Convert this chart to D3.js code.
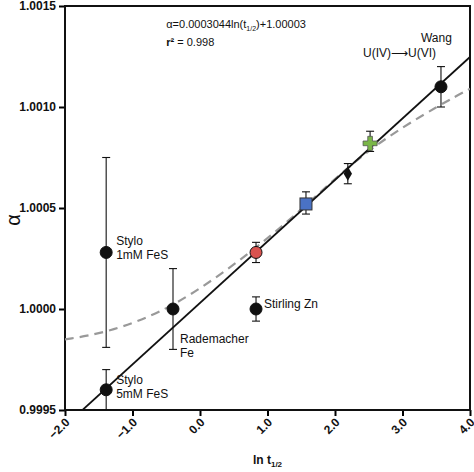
<!DOCTYPE html>
<html><head><meta charset="utf-8">
<script src="https://cdn.jsdelivr.net/npm/d3@7"></script>
<style>body{margin:0;background:#fff;font-family:"Liberation Sans",Arial,sans-serif}</style>
</head><body><div id="chart"></div>
<script>
// data points: ln t1/2, alpha, error high, error low
var names  = ["Stylo 1mM", "Rademacher", "Stylo 5mM", "red", "Stirling", "blue", "diamond", "green", "Wang"];
var xs     = [-1.39, -0.40, -1.39, 0.83, 0.83, 1.57, 2.19, 2.52, 3.57];
var ys     = [1.00028, 1.00000, 0.99960, 1.00028, 1.00000, 1.00052, 1.00067, 1.00082, 1.00110];
var errHi  = [1.00075, 1.00020, 0.99970, 1.00033, 1.00006, 1.00058, 1.00072, 1.00088, 1.00120];
var errLo  = [0.99981, 0.99980, 0.99950, 1.00023, 0.99994, 1.00047, 1.00062, 1.00078, 1.00100];
var shapes = ["circle", "circle", "circle", "circle", "circle", "square", "diamond", "cross", "circle"];
var fills  = ["#111", "#111", "#111", "#d9534f", "#111", "#4a72c4", "#111", "#7ab648", "#111"];
// dashed curve
var curveX = [-2.0, -1.4, -0.4, 0.8, 1.6, 2.5, 3.6, 4.0];
var curveY = [0.99985, 0.99988, 1.00000, 1.00029, 1.00052, 1.00080, 1.00102, 1.00109];
var xTicks = [-2, -1, 0, 1, 2, 3, 4];
var yTicks = [0.9995, 1.0000, 1.0005, 1.0010, 1.0015];
var slope = 0.0003044, intercept = 1.00003;

var W = 474, H = 472;
var margin = {top: 6, right: 4, bottom: 62, left: 65};
var width = W - margin.left - margin.right, height = H - margin.top - margin.bottom;

var svg = d3.select("#chart").append("svg").attr("width", W).attr("height", H)
  .append("g").attr("transform", "translate(" + margin.left + "," + margin.top + ")");

var x = d3.scaleLinear().domain([-2, 4]).range([0, width]);
var y = d3.scaleLinear().domain([0.9995, 1.0015]).range([height, 0]);

svg.append("defs").append("clipPath").attr("id", "clip")
  .append("rect").attr("width", width).attr("height", height);

// axes
var xa = svg.append("g").attr("transform", "translate(0," + height + ")")
  .call(d3.axisBottom(x).tickValues(xTicks).tickFormat(d3.format(".1f")).tickSize(6));
xa.selectAll("text").attr("x", 0).attr("y", 0).attr("dy", 0)
  .attr("transform", "translate(5,13)rotate(-45)").style("text-anchor", "end")
  .attr("font-size", 12).attr("font-weight", "bold").attr("fill", "#111");
var ya = svg.append("g")
  .call(d3.axisLeft(y).tickValues(yTicks).tickFormat(d3.format(".4f")).tickSize(6));
ya.selectAll("text").attr("font-size", 12).attr("font-weight", "bold").attr("fill", "#111");
svg.selectAll(".domain").remove();
svg.selectAll(".tick line").attr("stroke-width", 2);

svg.append("rect").attr("width", width).attr("height", height)
  .attr("fill", "none").attr("stroke", "#111").attr("stroke-width", 2);

var plot = svg.append("g").attr("clip-path", "url(#clip)");

// dashed curve
plot.append("path").datum(curveX.map(function(d, i){ return [d, curveY[i]]; }))
  .attr("fill", "none").attr("stroke", "#999").attr("stroke-width", 2.2).attr("stroke-dasharray", "9,6")
  .attr("d", d3.line().curve(d3.curveBasis).x(function(d){ return x(d[0]); }).y(function(d){ return y(d[1]); }));

// regression line
plot.append("line")
  .attr("x1", x(-2)).attr("y1", y(slope * -2 + intercept))
  .attr("x2", x(4)).attr("y2", y(slope * 4 + intercept))
  .attr("stroke", "#111").attr("stroke-width", 1.8);

// error bars
xs.forEach(function(d, i){
  var g = plot.append("g").attr("stroke", "#111").attr("stroke-width", 1.1);
  g.append("line").attr("x1", x(d)).attr("x2", x(d)).attr("y1", y(errHi[i])).attr("y2", y(errLo[i]));
  [errHi[i], errLo[i]].forEach(function(e){
    g.append("line").attr("x1", x(d) - 4).attr("x2", x(d) + 4).attr("y1", y(e)).attr("y2", y(e));
  });
});

// markers
xs.forEach(function(d, i){
  var cx = x(d), cy = y(ys[i]);
  var s = shapes[i];
  if (s === "circle") {
    plot.append("circle").attr("cx", cx).attr("cy", cy).attr("r", 6).attr("fill", fills[i]).attr("stroke", "#111");
  } else if (s === "square") {
    plot.append("rect").attr("x", cx - 6).attr("y", cy - 6).attr("width", 12).attr("height", 12)
      .attr("fill", fills[i]).attr("stroke", "#333");
  } else if (s === "diamond") {
    plot.append("path").attr("d", d3.symbol(d3.symbolDiamond, 60)()).attr("transform", "translate(" + cx + "," + cy + ")")
      .attr("fill", fills[i]);
  } else {
    plot.append("path").attr("d", d3.symbol(d3.symbolCross, 110)()).attr("transform", "translate(" + cx + "," + cy + ")")
      .attr("fill", fills[i]).attr("stroke", "#555").attr("stroke-width", 0.8);
  }
});

// labels
function label(txt, px, py, anchor){
  svg.append("text").attr("x", px).attr("y", py).attr("font-size", 12).attr("fill", "#111")
    .attr("text-anchor", anchor || "start").text(txt);
}
label("Stylo", x(-1.39) + 10, y(1.00028) - 7);
label("1mM FeS", x(-1.39) + 10, y(1.00028) + 7);
label("Rademacher", x(-0.40) + 7, y(0.99984) + 2);
label("Fe", x(-0.40) + 7, y(0.99984) + 16);
label("Stylo", x(-1.39) + 10, y(0.99960) - 6);
label("5mM FeS", x(-1.39) + 10, y(0.99960) + 8);
label("Stirling Zn", x(0.83) + 8, y(1.00001) + 1);
label("Wang", x(3.57) - 20, y(1.00132));
svg.append("text").attr("x", x(3.57) - 5).attr("y", y(1.00132) + 15).attr("font-size", 12)
  .attr("fill", "#111").attr("text-anchor", "end").text("U(IV)\u27F6U(VI)");

var eq = svg.append("text").attr("x", x(-0.5)).attr("y", y(1.00139)).attr("font-size", 11).attr("fill", "#111");
eq.append("tspan").text("\u03B1=0.0003044ln(t");
eq.append("tspan").attr("font-size", 7).attr("dy", 3).text("1/2");
eq.append("tspan").attr("dy", -3).text(")+1.00003");
var r2 = svg.append("text").attr("x", x(-0.5)).attr("y", y(1.0013)).attr("font-size", 11).attr("fill", "#111");
r2.append("tspan").attr("font-weight", "bold").text("r\u00B2");
r2.append("tspan").text(" = 0.998");

// axis titles
svg.append("text").attr("transform", "translate(-45," + (y(1.0005) + 12) + ")rotate(-90)")
  .attr("text-anchor", "middle").attr("font-size", 20).attr("fill", "#111").text("\u03B1");
var xt = svg.append("text").attr("x", width / 2).attr("y", height + 54).attr("text-anchor", "middle")
  .attr("font-size", 12).attr("font-weight", "bold").attr("fill", "#111");
xt.append("tspan").text("ln t");
xt.append("tspan").attr("font-size", 8).attr("dy", 3).text("1/2");
</script></body></html>
